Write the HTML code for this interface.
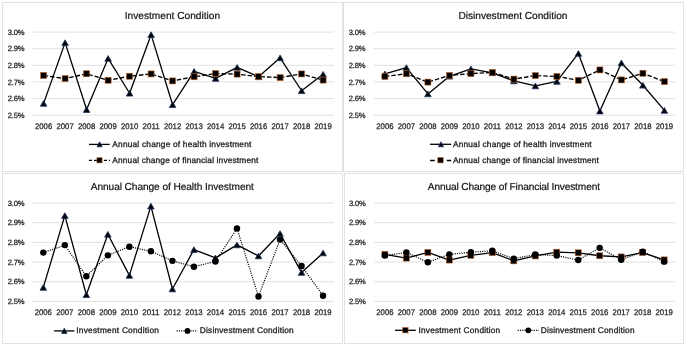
<!DOCTYPE html><html><head><meta charset="utf-8"><style>html,body{margin:0;padding:0;background:#fff;}svg{display:block;filter:blur(0.5px);}</style></head><body>
<svg width="685" height="345" viewBox="0 0 685 345" font-family="Liberation Sans, sans-serif" text-rendering="geometricPrecision">
<rect width="685" height="345" fill="#fff"/>
<rect x="2.5" y="2.5" width="340" height="169" fill="#fff" stroke="#e2e2e2" stroke-width="1"/>
<rect x="343.5" y="2.5" width="340" height="169" fill="#fff" stroke="#e2e2e2" stroke-width="1"/>
<rect x="2.5" y="173.5" width="340" height="170" fill="#fff" stroke="#e2e2e2" stroke-width="1"/>
<rect x="344.5" y="173.5" width="339" height="170" fill="#fff" stroke="#e2e2e2" stroke-width="1"/>
<line x1="32.6" y1="115.20" x2="333.9" y2="115.20" stroke="#e1e1e1" stroke-width="1"/>
<text x="24.50" y="117.90" font-size="7.6" fill="#1e1e1e" stroke="#1e1e1e" stroke-width="0.25" text-anchor="end" textLength="16.8" lengthAdjust="spacing">2.5%</text>
<line x1="32.6" y1="98.58" x2="333.9" y2="98.58" stroke="#e1e1e1" stroke-width="1"/>
<text x="24.50" y="101.28" font-size="7.6" fill="#1e1e1e" stroke="#1e1e1e" stroke-width="0.25" text-anchor="end" textLength="16.8" lengthAdjust="spacing">2.6%</text>
<line x1="32.6" y1="81.96" x2="333.9" y2="81.96" stroke="#e1e1e1" stroke-width="1"/>
<text x="24.50" y="84.66" font-size="7.6" fill="#1e1e1e" stroke="#1e1e1e" stroke-width="0.25" text-anchor="end" textLength="16.8" lengthAdjust="spacing">2.7%</text>
<line x1="32.6" y1="65.34" x2="333.9" y2="65.34" stroke="#e1e1e1" stroke-width="1"/>
<text x="24.50" y="68.04" font-size="7.6" fill="#1e1e1e" stroke="#1e1e1e" stroke-width="0.25" text-anchor="end" textLength="16.8" lengthAdjust="spacing">2.8%</text>
<line x1="32.6" y1="48.72" x2="333.9" y2="48.72" stroke="#e1e1e1" stroke-width="1"/>
<text x="24.50" y="51.42" font-size="7.6" fill="#1e1e1e" stroke="#1e1e1e" stroke-width="0.25" text-anchor="end" textLength="16.8" lengthAdjust="spacing">2.9%</text>
<line x1="32.6" y1="32.10" x2="333.9" y2="32.10" stroke="#e1e1e1" stroke-width="1"/>
<text x="24.50" y="34.80" font-size="7.6" fill="#1e1e1e" stroke="#1e1e1e" stroke-width="0.25" text-anchor="end" textLength="16.8" lengthAdjust="spacing">3.0%</text>
<text x="43.60" y="128.60" font-size="8.1" fill="#1e1e1e" stroke="#1e1e1e" stroke-width="0.25" text-anchor="middle" textLength="17.2" lengthAdjust="spacingAndGlyphs">2006</text>
<text x="65.10" y="128.60" font-size="8.1" fill="#1e1e1e" stroke="#1e1e1e" stroke-width="0.25" text-anchor="middle" textLength="17.2" lengthAdjust="spacingAndGlyphs">2007</text>
<text x="86.60" y="128.60" font-size="8.1" fill="#1e1e1e" stroke="#1e1e1e" stroke-width="0.25" text-anchor="middle" textLength="17.2" lengthAdjust="spacingAndGlyphs">2008</text>
<text x="108.10" y="128.60" font-size="8.1" fill="#1e1e1e" stroke="#1e1e1e" stroke-width="0.25" text-anchor="middle" textLength="17.2" lengthAdjust="spacingAndGlyphs">2009</text>
<text x="129.60" y="128.60" font-size="8.1" fill="#1e1e1e" stroke="#1e1e1e" stroke-width="0.25" text-anchor="middle" textLength="17.2" lengthAdjust="spacingAndGlyphs">2010</text>
<text x="151.10" y="128.60" font-size="8.1" fill="#1e1e1e" stroke="#1e1e1e" stroke-width="0.25" text-anchor="middle" textLength="17.2" lengthAdjust="spacingAndGlyphs">2011</text>
<text x="172.60" y="128.60" font-size="8.1" fill="#1e1e1e" stroke="#1e1e1e" stroke-width="0.25" text-anchor="middle" textLength="17.2" lengthAdjust="spacingAndGlyphs">2012</text>
<text x="194.10" y="128.60" font-size="8.1" fill="#1e1e1e" stroke="#1e1e1e" stroke-width="0.25" text-anchor="middle" textLength="17.2" lengthAdjust="spacingAndGlyphs">2013</text>
<text x="215.60" y="128.60" font-size="8.1" fill="#1e1e1e" stroke="#1e1e1e" stroke-width="0.25" text-anchor="middle" textLength="17.2" lengthAdjust="spacingAndGlyphs">2014</text>
<text x="237.10" y="128.60" font-size="8.1" fill="#1e1e1e" stroke="#1e1e1e" stroke-width="0.25" text-anchor="middle" textLength="17.2" lengthAdjust="spacingAndGlyphs">2015</text>
<text x="258.60" y="128.60" font-size="8.1" fill="#1e1e1e" stroke="#1e1e1e" stroke-width="0.25" text-anchor="middle" textLength="17.2" lengthAdjust="spacingAndGlyphs">2016</text>
<text x="280.10" y="128.60" font-size="8.1" fill="#1e1e1e" stroke="#1e1e1e" stroke-width="0.25" text-anchor="middle" textLength="17.2" lengthAdjust="spacingAndGlyphs">2017</text>
<text x="301.60" y="128.60" font-size="8.1" fill="#1e1e1e" stroke="#1e1e1e" stroke-width="0.25" text-anchor="middle" textLength="17.2" lengthAdjust="spacingAndGlyphs">2018</text>
<text x="323.10" y="128.60" font-size="8.1" fill="#1e1e1e" stroke="#1e1e1e" stroke-width="0.25" text-anchor="middle" textLength="17.2" lengthAdjust="spacingAndGlyphs">2019</text>
<text x="124.80" y="18.80" font-size="10.2" fill="#141414" stroke="#141414" stroke-width="0.2" text-anchor="start" textLength="95.3" lengthAdjust="spacing">Investment Condition</text>
<path d="M43.60,103.39 L65.10,42.65 L86.60,109.54 L108.10,58.46 L129.60,93.24 L151.10,34.66 L172.60,104.72 L194.10,71.44 L215.60,78.43 L237.10,67.44 L258.60,76.76 L280.10,57.79 L301.60,90.74 L323.10,74.27" fill="none" stroke="#000" stroke-width="1.3" stroke-linejoin="round"/>
<path d="M43.60,100.54 L46.90,106.24 L40.30,106.24 Z" fill="#000" stroke="#203864" stroke-width="0.8" stroke-linejoin="miter"/>
<path d="M65.10,39.80 L68.40,45.50 L61.80,45.50 Z" fill="#000" stroke="#203864" stroke-width="0.8" stroke-linejoin="miter"/>
<path d="M86.60,106.69 L89.90,112.39 L83.30,112.39 Z" fill="#000" stroke="#203864" stroke-width="0.8" stroke-linejoin="miter"/>
<path d="M108.10,55.61 L111.40,61.31 L104.80,61.31 Z" fill="#000" stroke="#203864" stroke-width="0.8" stroke-linejoin="miter"/>
<path d="M129.60,90.39 L132.90,96.09 L126.30,96.09 Z" fill="#000" stroke="#203864" stroke-width="0.8" stroke-linejoin="miter"/>
<path d="M151.10,31.81 L154.40,37.51 L147.80,37.51 Z" fill="#000" stroke="#203864" stroke-width="0.8" stroke-linejoin="miter"/>
<path d="M172.60,101.87 L175.90,107.57 L169.30,107.57 Z" fill="#000" stroke="#203864" stroke-width="0.8" stroke-linejoin="miter"/>
<path d="M194.10,68.59 L197.40,74.29 L190.80,74.29 Z" fill="#000" stroke="#203864" stroke-width="0.8" stroke-linejoin="miter"/>
<path d="M215.60,75.58 L218.90,81.28 L212.30,81.28 Z" fill="#000" stroke="#203864" stroke-width="0.8" stroke-linejoin="miter"/>
<path d="M237.10,64.59 L240.40,70.29 L233.80,70.29 Z" fill="#000" stroke="#203864" stroke-width="0.8" stroke-linejoin="miter"/>
<path d="M258.60,73.91 L261.90,79.61 L255.30,79.61 Z" fill="#000" stroke="#203864" stroke-width="0.8" stroke-linejoin="miter"/>
<path d="M280.10,54.94 L283.40,60.64 L276.80,60.64 Z" fill="#000" stroke="#203864" stroke-width="0.8" stroke-linejoin="miter"/>
<path d="M301.60,87.89 L304.90,93.59 L298.30,93.59 Z" fill="#000" stroke="#203864" stroke-width="0.8" stroke-linejoin="miter"/>
<path d="M323.10,71.42 L326.40,77.12 L319.80,77.12 Z" fill="#000" stroke="#203864" stroke-width="0.8" stroke-linejoin="miter"/>
<path d="M43.60,75.43 L65.10,78.59 L86.60,73.77 L108.10,80.26 L129.60,76.26 L151.10,73.93 L172.60,80.92 L194.10,76.76 L215.60,73.60 L237.10,74.10 L258.60,76.60 L280.10,77.59 L301.60,73.93 L323.10,80.09" fill="none" stroke="#000" stroke-width="1.35" stroke-dasharray="4.5 2"/>
<rect x="40.60" y="72.43" width="6.0" height="6.0" fill="#000" stroke="#b8622a" stroke-width="0.6"/>
<rect x="62.10" y="75.59" width="6.0" height="6.0" fill="#000" stroke="#b8622a" stroke-width="0.6"/>
<rect x="83.60" y="70.77" width="6.0" height="6.0" fill="#000" stroke="#b8622a" stroke-width="0.6"/>
<rect x="105.10" y="77.26" width="6.0" height="6.0" fill="#000" stroke="#b8622a" stroke-width="0.6"/>
<rect x="126.60" y="73.26" width="6.0" height="6.0" fill="#000" stroke="#b8622a" stroke-width="0.6"/>
<rect x="148.10" y="70.93" width="6.0" height="6.0" fill="#000" stroke="#b8622a" stroke-width="0.6"/>
<rect x="169.60" y="77.92" width="6.0" height="6.0" fill="#000" stroke="#b8622a" stroke-width="0.6"/>
<rect x="191.10" y="73.76" width="6.0" height="6.0" fill="#000" stroke="#b8622a" stroke-width="0.6"/>
<rect x="212.60" y="70.60" width="6.0" height="6.0" fill="#000" stroke="#b8622a" stroke-width="0.6"/>
<rect x="234.10" y="71.10" width="6.0" height="6.0" fill="#000" stroke="#b8622a" stroke-width="0.6"/>
<rect x="255.60" y="73.60" width="6.0" height="6.0" fill="#000" stroke="#b8622a" stroke-width="0.6"/>
<rect x="277.10" y="74.59" width="6.0" height="6.0" fill="#000" stroke="#b8622a" stroke-width="0.6"/>
<rect x="298.60" y="70.93" width="6.0" height="6.0" fill="#000" stroke="#b8622a" stroke-width="0.6"/>
<rect x="320.10" y="77.09" width="6.0" height="6.0" fill="#000" stroke="#b8622a" stroke-width="0.6"/>
<line x1="89" y1="144.4" x2="109.7" y2="144.4" stroke="#000" stroke-width="1.3"/>
<path d="M99.60,141.80 L102.20,146.80 L97.00,146.80 Z" fill="#000" stroke="#203864" stroke-width="0.8" stroke-linejoin="miter"/>
<text x="112.30" y="147.10" font-size="8.3" fill="#1e1e1e" stroke="#1e1e1e" stroke-width="0.3" text-anchor="start" textLength="139" lengthAdjust="spacing">Annual change of health investment</text>
<line x1="88.9" y1="160.4" x2="110" y2="160.4" stroke="#000" stroke-width="1.4" stroke-dasharray="3.1 1.9"/>
<rect x="96.90" y="157.70" width="5.2" height="5.2" fill="#000" stroke="#b8622a" stroke-width="0.6"/>
<text x="112.30" y="163.10" font-size="8.3" fill="#1e1e1e" stroke="#1e1e1e" stroke-width="0.3" text-anchor="start" textLength="146" lengthAdjust="spacing">Annual change of financial investment</text>
<line x1="373.7" y1="115.20" x2="674.8" y2="115.20" stroke="#e1e1e1" stroke-width="1"/>
<text x="365.60" y="117.90" font-size="7.6" fill="#1e1e1e" stroke="#1e1e1e" stroke-width="0.25" text-anchor="end" textLength="16.8" lengthAdjust="spacing">2.5%</text>
<line x1="373.7" y1="98.58" x2="674.8" y2="98.58" stroke="#e1e1e1" stroke-width="1"/>
<text x="365.60" y="101.28" font-size="7.6" fill="#1e1e1e" stroke="#1e1e1e" stroke-width="0.25" text-anchor="end" textLength="16.8" lengthAdjust="spacing">2.6%</text>
<line x1="373.7" y1="81.96" x2="674.8" y2="81.96" stroke="#e1e1e1" stroke-width="1"/>
<text x="365.60" y="84.66" font-size="7.6" fill="#1e1e1e" stroke="#1e1e1e" stroke-width="0.25" text-anchor="end" textLength="16.8" lengthAdjust="spacing">2.7%</text>
<line x1="373.7" y1="65.34" x2="674.8" y2="65.34" stroke="#e1e1e1" stroke-width="1"/>
<text x="365.60" y="68.04" font-size="7.6" fill="#1e1e1e" stroke="#1e1e1e" stroke-width="0.25" text-anchor="end" textLength="16.8" lengthAdjust="spacing">2.8%</text>
<line x1="373.7" y1="48.72" x2="674.8" y2="48.72" stroke="#e1e1e1" stroke-width="1"/>
<text x="365.60" y="51.42" font-size="7.6" fill="#1e1e1e" stroke="#1e1e1e" stroke-width="0.25" text-anchor="end" textLength="16.8" lengthAdjust="spacing">2.9%</text>
<line x1="373.7" y1="32.10" x2="674.8" y2="32.10" stroke="#e1e1e1" stroke-width="1"/>
<text x="365.60" y="34.80" font-size="7.6" fill="#1e1e1e" stroke="#1e1e1e" stroke-width="0.25" text-anchor="end" textLength="16.8" lengthAdjust="spacing">3.0%</text>
<text x="384.90" y="128.60" font-size="8.1" fill="#1e1e1e" stroke="#1e1e1e" stroke-width="0.25" text-anchor="middle" textLength="17.2" lengthAdjust="spacingAndGlyphs">2006</text>
<text x="406.40" y="128.60" font-size="8.1" fill="#1e1e1e" stroke="#1e1e1e" stroke-width="0.25" text-anchor="middle" textLength="17.2" lengthAdjust="spacingAndGlyphs">2007</text>
<text x="427.90" y="128.60" font-size="8.1" fill="#1e1e1e" stroke="#1e1e1e" stroke-width="0.25" text-anchor="middle" textLength="17.2" lengthAdjust="spacingAndGlyphs">2008</text>
<text x="449.40" y="128.60" font-size="8.1" fill="#1e1e1e" stroke="#1e1e1e" stroke-width="0.25" text-anchor="middle" textLength="17.2" lengthAdjust="spacingAndGlyphs">2009</text>
<text x="470.90" y="128.60" font-size="8.1" fill="#1e1e1e" stroke="#1e1e1e" stroke-width="0.25" text-anchor="middle" textLength="17.2" lengthAdjust="spacingAndGlyphs">2010</text>
<text x="492.40" y="128.60" font-size="8.1" fill="#1e1e1e" stroke="#1e1e1e" stroke-width="0.25" text-anchor="middle" textLength="17.2" lengthAdjust="spacingAndGlyphs">2011</text>
<text x="513.90" y="128.60" font-size="8.1" fill="#1e1e1e" stroke="#1e1e1e" stroke-width="0.25" text-anchor="middle" textLength="17.2" lengthAdjust="spacingAndGlyphs">2012</text>
<text x="535.40" y="128.60" font-size="8.1" fill="#1e1e1e" stroke="#1e1e1e" stroke-width="0.25" text-anchor="middle" textLength="17.2" lengthAdjust="spacingAndGlyphs">2013</text>
<text x="556.90" y="128.60" font-size="8.1" fill="#1e1e1e" stroke="#1e1e1e" stroke-width="0.25" text-anchor="middle" textLength="17.2" lengthAdjust="spacingAndGlyphs">2014</text>
<text x="578.40" y="128.60" font-size="8.1" fill="#1e1e1e" stroke="#1e1e1e" stroke-width="0.25" text-anchor="middle" textLength="17.2" lengthAdjust="spacingAndGlyphs">2015</text>
<text x="599.90" y="128.60" font-size="8.1" fill="#1e1e1e" stroke="#1e1e1e" stroke-width="0.25" text-anchor="middle" textLength="17.2" lengthAdjust="spacingAndGlyphs">2016</text>
<text x="621.40" y="128.60" font-size="8.1" fill="#1e1e1e" stroke="#1e1e1e" stroke-width="0.25" text-anchor="middle" textLength="17.2" lengthAdjust="spacingAndGlyphs">2017</text>
<text x="642.90" y="128.60" font-size="8.1" fill="#1e1e1e" stroke="#1e1e1e" stroke-width="0.25" text-anchor="middle" textLength="17.2" lengthAdjust="spacingAndGlyphs">2018</text>
<text x="664.40" y="128.60" font-size="8.1" fill="#1e1e1e" stroke="#1e1e1e" stroke-width="0.25" text-anchor="middle" textLength="17.2" lengthAdjust="spacingAndGlyphs">2019</text>
<text x="458.50" y="18.80" font-size="10.2" fill="#141414" stroke="#141414" stroke-width="0.2" text-anchor="start" textLength="109" lengthAdjust="spacing">Disinvestment Condition</text>
<path d="M384.90,73.93 L406.40,67.61 L427.90,93.90 L449.40,76.26 L470.90,68.94 L492.40,72.77 L513.90,80.92 L535.40,85.91 L556.90,81.42 L578.40,53.47 L599.90,111.04 L621.40,62.95 L642.90,85.25 L664.40,110.37" fill="none" stroke="#000" stroke-width="1.3" stroke-linejoin="round"/>
<path d="M384.90,71.08 L388.20,76.78 L381.60,76.78 Z" fill="#000" stroke="#203864" stroke-width="0.8" stroke-linejoin="miter"/>
<path d="M406.40,64.76 L409.70,70.46 L403.10,70.46 Z" fill="#000" stroke="#203864" stroke-width="0.8" stroke-linejoin="miter"/>
<path d="M427.90,91.05 L431.20,96.75 L424.60,96.75 Z" fill="#000" stroke="#203864" stroke-width="0.8" stroke-linejoin="miter"/>
<path d="M449.40,73.41 L452.70,79.11 L446.10,79.11 Z" fill="#000" stroke="#203864" stroke-width="0.8" stroke-linejoin="miter"/>
<path d="M470.90,66.09 L474.20,71.79 L467.60,71.79 Z" fill="#000" stroke="#203864" stroke-width="0.8" stroke-linejoin="miter"/>
<path d="M492.40,69.92 L495.70,75.62 L489.10,75.62 Z" fill="#000" stroke="#203864" stroke-width="0.8" stroke-linejoin="miter"/>
<path d="M513.90,78.07 L517.20,83.77 L510.60,83.77 Z" fill="#000" stroke="#203864" stroke-width="0.8" stroke-linejoin="miter"/>
<path d="M535.40,83.06 L538.70,88.76 L532.10,88.76 Z" fill="#000" stroke="#203864" stroke-width="0.8" stroke-linejoin="miter"/>
<path d="M556.90,78.57 L560.20,84.27 L553.60,84.27 Z" fill="#000" stroke="#203864" stroke-width="0.8" stroke-linejoin="miter"/>
<path d="M578.40,50.62 L581.70,56.32 L575.10,56.32 Z" fill="#000" stroke="#203864" stroke-width="0.8" stroke-linejoin="miter"/>
<path d="M599.90,108.19 L603.20,113.89 L596.60,113.89 Z" fill="#000" stroke="#203864" stroke-width="0.8" stroke-linejoin="miter"/>
<path d="M621.40,60.10 L624.70,65.80 L618.10,65.80 Z" fill="#000" stroke="#203864" stroke-width="0.8" stroke-linejoin="miter"/>
<path d="M642.90,82.40 L646.20,88.10 L639.60,88.10 Z" fill="#000" stroke="#203864" stroke-width="0.8" stroke-linejoin="miter"/>
<path d="M664.40,107.52 L667.70,113.22 L661.10,113.22 Z" fill="#000" stroke="#203864" stroke-width="0.8" stroke-linejoin="miter"/>
<path d="M384.90,76.43 L406.40,73.77 L427.90,82.09 L449.40,75.43 L470.90,73.60 L492.40,72.44 L513.90,79.09 L535.40,75.60 L556.90,76.43 L578.40,80.26 L599.90,69.94 L621.40,79.92 L642.90,73.27 L664.40,81.59" fill="none" stroke="#000" stroke-width="1.35" stroke-dasharray="4.5 2"/>
<rect x="381.90" y="73.43" width="6.0" height="6.0" fill="#000" stroke="#b8622a" stroke-width="0.6"/>
<rect x="403.40" y="70.77" width="6.0" height="6.0" fill="#000" stroke="#b8622a" stroke-width="0.6"/>
<rect x="424.90" y="79.09" width="6.0" height="6.0" fill="#000" stroke="#b8622a" stroke-width="0.6"/>
<rect x="446.40" y="72.43" width="6.0" height="6.0" fill="#000" stroke="#b8622a" stroke-width="0.6"/>
<rect x="467.90" y="70.60" width="6.0" height="6.0" fill="#000" stroke="#b8622a" stroke-width="0.6"/>
<rect x="489.40" y="69.44" width="6.0" height="6.0" fill="#000" stroke="#b8622a" stroke-width="0.6"/>
<rect x="510.90" y="76.09" width="6.0" height="6.0" fill="#000" stroke="#b8622a" stroke-width="0.6"/>
<rect x="532.40" y="72.60" width="6.0" height="6.0" fill="#000" stroke="#b8622a" stroke-width="0.6"/>
<rect x="553.90" y="73.43" width="6.0" height="6.0" fill="#000" stroke="#b8622a" stroke-width="0.6"/>
<rect x="575.40" y="77.26" width="6.0" height="6.0" fill="#000" stroke="#b8622a" stroke-width="0.6"/>
<rect x="596.90" y="66.94" width="6.0" height="6.0" fill="#000" stroke="#b8622a" stroke-width="0.6"/>
<rect x="618.40" y="76.92" width="6.0" height="6.0" fill="#000" stroke="#b8622a" stroke-width="0.6"/>
<rect x="639.90" y="70.27" width="6.0" height="6.0" fill="#000" stroke="#b8622a" stroke-width="0.6"/>
<rect x="661.40" y="78.59" width="6.0" height="6.0" fill="#000" stroke="#b8622a" stroke-width="0.6"/>
<line x1="430.1" y1="144.3" x2="451.2" y2="144.3" stroke="#000" stroke-width="1.3"/>
<path d="M441.00,141.80 L443.60,146.80 L438.40,146.80 Z" fill="#000" stroke="#203864" stroke-width="0.8" stroke-linejoin="miter"/>
<text x="452.90" y="147.30" font-size="8.3" fill="#1e1e1e" stroke="#1e1e1e" stroke-width="0.3" text-anchor="start" textLength="138.7" lengthAdjust="spacing">Annual change of health investment</text>
<line x1="430.1" y1="160.4" x2="451.2" y2="160.4" stroke="#000" stroke-width="1.5" stroke-dasharray="4.6 12.1"/>
<rect x="437.80" y="157.50" width="5.4" height="5.4" fill="#000" stroke="#b8622a" stroke-width="0.6"/>
<text x="452.90" y="163.30" font-size="8.3" fill="#1e1e1e" stroke="#1e1e1e" stroke-width="0.3" text-anchor="start" textLength="146" lengthAdjust="spacing">Annual change of financial investment</text>
<line x1="32.4" y1="301.40" x2="334.0" y2="301.40" stroke="#e1e1e1" stroke-width="1"/>
<text x="24.50" y="304.10" font-size="7.6" fill="#1e1e1e" stroke="#1e1e1e" stroke-width="0.25" text-anchor="end" textLength="16.8" lengthAdjust="spacing">2.5%</text>
<line x1="32.4" y1="281.72" x2="334.0" y2="281.72" stroke="#e1e1e1" stroke-width="1"/>
<text x="24.50" y="284.42" font-size="7.6" fill="#1e1e1e" stroke="#1e1e1e" stroke-width="0.25" text-anchor="end" textLength="16.8" lengthAdjust="spacing">2.6%</text>
<line x1="32.4" y1="262.04" x2="334.0" y2="262.04" stroke="#e1e1e1" stroke-width="1"/>
<text x="24.50" y="264.74" font-size="7.6" fill="#1e1e1e" stroke="#1e1e1e" stroke-width="0.25" text-anchor="end" textLength="16.8" lengthAdjust="spacing">2.7%</text>
<line x1="32.4" y1="242.36" x2="334.0" y2="242.36" stroke="#e1e1e1" stroke-width="1"/>
<text x="24.50" y="245.06" font-size="7.6" fill="#1e1e1e" stroke="#1e1e1e" stroke-width="0.25" text-anchor="end" textLength="16.8" lengthAdjust="spacing">2.8%</text>
<line x1="32.4" y1="222.68" x2="334.0" y2="222.68" stroke="#e1e1e1" stroke-width="1"/>
<text x="24.50" y="225.38" font-size="7.6" fill="#1e1e1e" stroke="#1e1e1e" stroke-width="0.25" text-anchor="end" textLength="16.8" lengthAdjust="spacing">2.9%</text>
<line x1="32.4" y1="203.00" x2="334.0" y2="203.00" stroke="#e1e1e1" stroke-width="1"/>
<text x="24.50" y="205.70" font-size="7.6" fill="#1e1e1e" stroke="#1e1e1e" stroke-width="0.25" text-anchor="end" textLength="16.8" lengthAdjust="spacing">3.0%</text>
<text x="43.30" y="315.00" font-size="8.1" fill="#1e1e1e" stroke="#1e1e1e" stroke-width="0.25" text-anchor="middle" textLength="17.2" lengthAdjust="spacingAndGlyphs">2006</text>
<text x="64.82" y="315.00" font-size="8.1" fill="#1e1e1e" stroke="#1e1e1e" stroke-width="0.25" text-anchor="middle" textLength="17.2" lengthAdjust="spacingAndGlyphs">2007</text>
<text x="86.34" y="315.00" font-size="8.1" fill="#1e1e1e" stroke="#1e1e1e" stroke-width="0.25" text-anchor="middle" textLength="17.2" lengthAdjust="spacingAndGlyphs">2008</text>
<text x="107.86" y="315.00" font-size="8.1" fill="#1e1e1e" stroke="#1e1e1e" stroke-width="0.25" text-anchor="middle" textLength="17.2" lengthAdjust="spacingAndGlyphs">2009</text>
<text x="129.38" y="315.00" font-size="8.1" fill="#1e1e1e" stroke="#1e1e1e" stroke-width="0.25" text-anchor="middle" textLength="17.2" lengthAdjust="spacingAndGlyphs">2010</text>
<text x="150.90" y="315.00" font-size="8.1" fill="#1e1e1e" stroke="#1e1e1e" stroke-width="0.25" text-anchor="middle" textLength="17.2" lengthAdjust="spacingAndGlyphs">2011</text>
<text x="172.42" y="315.00" font-size="8.1" fill="#1e1e1e" stroke="#1e1e1e" stroke-width="0.25" text-anchor="middle" textLength="17.2" lengthAdjust="spacingAndGlyphs">2012</text>
<text x="193.94" y="315.00" font-size="8.1" fill="#1e1e1e" stroke="#1e1e1e" stroke-width="0.25" text-anchor="middle" textLength="17.2" lengthAdjust="spacingAndGlyphs">2013</text>
<text x="215.46" y="315.00" font-size="8.1" fill="#1e1e1e" stroke="#1e1e1e" stroke-width="0.25" text-anchor="middle" textLength="17.2" lengthAdjust="spacingAndGlyphs">2014</text>
<text x="236.98" y="315.00" font-size="8.1" fill="#1e1e1e" stroke="#1e1e1e" stroke-width="0.25" text-anchor="middle" textLength="17.2" lengthAdjust="spacingAndGlyphs">2015</text>
<text x="258.50" y="315.00" font-size="8.1" fill="#1e1e1e" stroke="#1e1e1e" stroke-width="0.25" text-anchor="middle" textLength="17.2" lengthAdjust="spacingAndGlyphs">2016</text>
<text x="280.02" y="315.00" font-size="8.1" fill="#1e1e1e" stroke="#1e1e1e" stroke-width="0.25" text-anchor="middle" textLength="17.2" lengthAdjust="spacingAndGlyphs">2017</text>
<text x="301.54" y="315.00" font-size="8.1" fill="#1e1e1e" stroke="#1e1e1e" stroke-width="0.25" text-anchor="middle" textLength="17.2" lengthAdjust="spacingAndGlyphs">2018</text>
<text x="323.06" y="315.00" font-size="8.1" fill="#1e1e1e" stroke="#1e1e1e" stroke-width="0.25" text-anchor="middle" textLength="17.2" lengthAdjust="spacingAndGlyphs">2019</text>
<text x="90.80" y="189.70" font-size="10.2" fill="#141414" stroke="#141414" stroke-width="0.2" text-anchor="start" textLength="163.1" lengthAdjust="spacing">Annual Change of Health Investment</text>
<path d="M43.30,287.43 L64.82,215.60 L86.34,294.71 L107.86,234.29 L129.38,275.42 L150.90,206.15 L172.42,289.00 L193.94,249.64 L215.46,257.91 L236.98,244.92 L258.50,255.94 L280.02,233.50 L301.54,272.47 L323.06,252.99" fill="none" stroke="#000" stroke-width="1.3" stroke-linejoin="round"/>
<path d="M43.30,284.58 L46.60,290.28 L40.00,290.28 Z" fill="#000" stroke="#203864" stroke-width="0.8" stroke-linejoin="miter"/>
<path d="M64.82,212.75 L68.12,218.45 L61.52,218.45 Z" fill="#000" stroke="#203864" stroke-width="0.8" stroke-linejoin="miter"/>
<path d="M86.34,291.86 L89.64,297.56 L83.04,297.56 Z" fill="#000" stroke="#203864" stroke-width="0.8" stroke-linejoin="miter"/>
<path d="M107.86,231.44 L111.16,237.14 L104.56,237.14 Z" fill="#000" stroke="#203864" stroke-width="0.8" stroke-linejoin="miter"/>
<path d="M129.38,272.57 L132.68,278.27 L126.08,278.27 Z" fill="#000" stroke="#203864" stroke-width="0.8" stroke-linejoin="miter"/>
<path d="M150.90,203.30 L154.20,209.00 L147.60,209.00 Z" fill="#000" stroke="#203864" stroke-width="0.8" stroke-linejoin="miter"/>
<path d="M172.42,286.15 L175.72,291.85 L169.12,291.85 Z" fill="#000" stroke="#203864" stroke-width="0.8" stroke-linejoin="miter"/>
<path d="M193.94,246.79 L197.24,252.49 L190.64,252.49 Z" fill="#000" stroke="#203864" stroke-width="0.8" stroke-linejoin="miter"/>
<path d="M215.46,255.06 L218.76,260.76 L212.16,260.76 Z" fill="#000" stroke="#203864" stroke-width="0.8" stroke-linejoin="miter"/>
<path d="M236.98,242.07 L240.28,247.77 L233.68,247.77 Z" fill="#000" stroke="#203864" stroke-width="0.8" stroke-linejoin="miter"/>
<path d="M258.50,253.09 L261.80,258.79 L255.20,258.79 Z" fill="#000" stroke="#203864" stroke-width="0.8" stroke-linejoin="miter"/>
<path d="M280.02,230.65 L283.32,236.35 L276.72,236.35 Z" fill="#000" stroke="#203864" stroke-width="0.8" stroke-linejoin="miter"/>
<path d="M301.54,269.62 L304.84,275.32 L298.24,275.32 Z" fill="#000" stroke="#203864" stroke-width="0.8" stroke-linejoin="miter"/>
<path d="M323.06,250.14 L326.36,255.84 L319.76,255.84 Z" fill="#000" stroke="#203864" stroke-width="0.8" stroke-linejoin="miter"/>
<path d="M43.30,252.59 L64.82,245.12 L86.34,276.21 L107.86,255.35 L129.38,246.69 L150.90,251.22 L172.42,260.86 L193.94,266.76 L215.46,261.45 L236.98,228.39 L258.50,296.48 L280.02,239.60 L301.54,265.98 L323.06,295.69" fill="none" stroke="#000" stroke-width="1.2" stroke-dasharray="1.1 1.2"/>
<circle cx="43.30" cy="252.59" r="3.2" fill="#000"/>
<circle cx="64.82" cy="245.12" r="3.2" fill="#000"/>
<circle cx="86.34" cy="276.21" r="3.2" fill="#000"/>
<circle cx="107.86" cy="255.35" r="3.2" fill="#000"/>
<circle cx="129.38" cy="246.69" r="3.2" fill="#000"/>
<circle cx="150.90" cy="251.22" r="3.2" fill="#000"/>
<circle cx="172.42" cy="260.86" r="3.2" fill="#000"/>
<circle cx="193.94" cy="266.76" r="3.2" fill="#000"/>
<circle cx="215.46" cy="261.45" r="3.2" fill="#000"/>
<circle cx="236.98" cy="228.39" r="3.2" fill="#000"/>
<circle cx="258.50" cy="296.48" r="3.2" fill="#000"/>
<circle cx="280.02" cy="239.60" r="3.2" fill="#000"/>
<circle cx="301.54" cy="265.98" r="3.2" fill="#000"/>
<circle cx="323.06" cy="295.69" r="3.2" fill="#000"/>
<line x1="54.1" y1="330.9" x2="74.4" y2="330.9" stroke="#000" stroke-width="1.3"/>
<path d="M64.30,328.20 L67.10,333.40 L61.50,333.40 Z" fill="#000" stroke="#203864" stroke-width="0.8" stroke-linejoin="miter"/>
<text x="76.30" y="333.20" font-size="8.3" fill="#1e1e1e" stroke="#1e1e1e" stroke-width="0.3" text-anchor="start" textLength="82.6" lengthAdjust="spacing">Investment Condition</text>
<line x1="176.6" y1="330.9" x2="197.5" y2="330.9" stroke="#000" stroke-width="1.2" stroke-dasharray="1.1 1.2"/>
<circle cx="187.50" cy="330.90" r="2.9" fill="#000"/>
<text x="199.80" y="333.20" font-size="8.3" fill="#1e1e1e" stroke="#1e1e1e" stroke-width="0.3" text-anchor="start" textLength="93.9" lengthAdjust="spacing">Disinvestment Condition</text>
<line x1="374.3" y1="301.40" x2="675.0" y2="301.40" stroke="#e1e1e1" stroke-width="1"/>
<text x="365.70" y="304.10" font-size="7.6" fill="#1e1e1e" stroke="#1e1e1e" stroke-width="0.25" text-anchor="end" textLength="16.8" lengthAdjust="spacing">2.5%</text>
<line x1="374.3" y1="281.72" x2="675.0" y2="281.72" stroke="#e1e1e1" stroke-width="1"/>
<text x="365.70" y="284.42" font-size="7.6" fill="#1e1e1e" stroke="#1e1e1e" stroke-width="0.25" text-anchor="end" textLength="16.8" lengthAdjust="spacing">2.6%</text>
<line x1="374.3" y1="262.04" x2="675.0" y2="262.04" stroke="#e1e1e1" stroke-width="1"/>
<text x="365.70" y="264.74" font-size="7.6" fill="#1e1e1e" stroke="#1e1e1e" stroke-width="0.25" text-anchor="end" textLength="16.8" lengthAdjust="spacing">2.7%</text>
<line x1="374.3" y1="242.36" x2="675.0" y2="242.36" stroke="#e1e1e1" stroke-width="1"/>
<text x="365.70" y="245.06" font-size="7.6" fill="#1e1e1e" stroke="#1e1e1e" stroke-width="0.25" text-anchor="end" textLength="16.8" lengthAdjust="spacing">2.8%</text>
<line x1="374.3" y1="222.68" x2="675.0" y2="222.68" stroke="#e1e1e1" stroke-width="1"/>
<text x="365.70" y="225.38" font-size="7.6" fill="#1e1e1e" stroke="#1e1e1e" stroke-width="0.25" text-anchor="end" textLength="16.8" lengthAdjust="spacing">2.9%</text>
<line x1="374.3" y1="203.00" x2="675.0" y2="203.00" stroke="#e1e1e1" stroke-width="1"/>
<text x="365.70" y="205.70" font-size="7.6" fill="#1e1e1e" stroke="#1e1e1e" stroke-width="0.25" text-anchor="end" textLength="16.8" lengthAdjust="spacing">3.0%</text>
<text x="384.90" y="315.00" font-size="8.1" fill="#1e1e1e" stroke="#1e1e1e" stroke-width="0.25" text-anchor="middle" textLength="17.2" lengthAdjust="spacingAndGlyphs">2006</text>
<text x="406.38" y="315.00" font-size="8.1" fill="#1e1e1e" stroke="#1e1e1e" stroke-width="0.25" text-anchor="middle" textLength="17.2" lengthAdjust="spacingAndGlyphs">2007</text>
<text x="427.86" y="315.00" font-size="8.1" fill="#1e1e1e" stroke="#1e1e1e" stroke-width="0.25" text-anchor="middle" textLength="17.2" lengthAdjust="spacingAndGlyphs">2008</text>
<text x="449.34" y="315.00" font-size="8.1" fill="#1e1e1e" stroke="#1e1e1e" stroke-width="0.25" text-anchor="middle" textLength="17.2" lengthAdjust="spacingAndGlyphs">2009</text>
<text x="470.82" y="315.00" font-size="8.1" fill="#1e1e1e" stroke="#1e1e1e" stroke-width="0.25" text-anchor="middle" textLength="17.2" lengthAdjust="spacingAndGlyphs">2010</text>
<text x="492.30" y="315.00" font-size="8.1" fill="#1e1e1e" stroke="#1e1e1e" stroke-width="0.25" text-anchor="middle" textLength="17.2" lengthAdjust="spacingAndGlyphs">2011</text>
<text x="513.78" y="315.00" font-size="8.1" fill="#1e1e1e" stroke="#1e1e1e" stroke-width="0.25" text-anchor="middle" textLength="17.2" lengthAdjust="spacingAndGlyphs">2012</text>
<text x="535.26" y="315.00" font-size="8.1" fill="#1e1e1e" stroke="#1e1e1e" stroke-width="0.25" text-anchor="middle" textLength="17.2" lengthAdjust="spacingAndGlyphs">2013</text>
<text x="556.74" y="315.00" font-size="8.1" fill="#1e1e1e" stroke="#1e1e1e" stroke-width="0.25" text-anchor="middle" textLength="17.2" lengthAdjust="spacingAndGlyphs">2014</text>
<text x="578.22" y="315.00" font-size="8.1" fill="#1e1e1e" stroke="#1e1e1e" stroke-width="0.25" text-anchor="middle" textLength="17.2" lengthAdjust="spacingAndGlyphs">2015</text>
<text x="599.70" y="315.00" font-size="8.1" fill="#1e1e1e" stroke="#1e1e1e" stroke-width="0.25" text-anchor="middle" textLength="17.2" lengthAdjust="spacingAndGlyphs">2016</text>
<text x="621.18" y="315.00" font-size="8.1" fill="#1e1e1e" stroke="#1e1e1e" stroke-width="0.25" text-anchor="middle" textLength="17.2" lengthAdjust="spacingAndGlyphs">2017</text>
<text x="642.66" y="315.00" font-size="8.1" fill="#1e1e1e" stroke="#1e1e1e" stroke-width="0.25" text-anchor="middle" textLength="17.2" lengthAdjust="spacingAndGlyphs">2018</text>
<text x="664.14" y="315.00" font-size="8.1" fill="#1e1e1e" stroke="#1e1e1e" stroke-width="0.25" text-anchor="middle" textLength="17.2" lengthAdjust="spacingAndGlyphs">2019</text>
<text x="427.80" y="189.70" font-size="10.2" fill="#141414" stroke="#141414" stroke-width="0.2" text-anchor="start" textLength="172.2" lengthAdjust="spacing">Annual Change of Financial Investment</text>
<path d="M384.90,254.36 L406.38,258.10 L427.86,252.40 L449.34,260.07 L470.82,255.35 L492.30,252.59 L513.78,260.86 L535.26,255.94 L556.74,252.20 L578.22,252.79 L599.70,255.74 L621.18,256.92 L642.66,252.59 L664.14,259.88" fill="none" stroke="#000" stroke-width="1.3" stroke-linejoin="round"/>
<rect x="381.90" y="251.36" width="6.0" height="6.0" fill="#000" stroke="#b8622a" stroke-width="0.6"/>
<rect x="403.38" y="255.10" width="6.0" height="6.0" fill="#000" stroke="#b8622a" stroke-width="0.6"/>
<rect x="424.86" y="249.40" width="6.0" height="6.0" fill="#000" stroke="#b8622a" stroke-width="0.6"/>
<rect x="446.34" y="257.07" width="6.0" height="6.0" fill="#000" stroke="#b8622a" stroke-width="0.6"/>
<rect x="467.82" y="252.35" width="6.0" height="6.0" fill="#000" stroke="#b8622a" stroke-width="0.6"/>
<rect x="489.30" y="249.59" width="6.0" height="6.0" fill="#000" stroke="#b8622a" stroke-width="0.6"/>
<rect x="510.78" y="257.86" width="6.0" height="6.0" fill="#000" stroke="#b8622a" stroke-width="0.6"/>
<rect x="532.26" y="252.94" width="6.0" height="6.0" fill="#000" stroke="#b8622a" stroke-width="0.6"/>
<rect x="553.74" y="249.20" width="6.0" height="6.0" fill="#000" stroke="#b8622a" stroke-width="0.6"/>
<rect x="575.22" y="249.79" width="6.0" height="6.0" fill="#000" stroke="#b8622a" stroke-width="0.6"/>
<rect x="596.70" y="252.74" width="6.0" height="6.0" fill="#000" stroke="#b8622a" stroke-width="0.6"/>
<rect x="618.18" y="253.92" width="6.0" height="6.0" fill="#000" stroke="#b8622a" stroke-width="0.6"/>
<rect x="639.66" y="249.59" width="6.0" height="6.0" fill="#000" stroke="#b8622a" stroke-width="0.6"/>
<rect x="661.14" y="256.88" width="6.0" height="6.0" fill="#000" stroke="#b8622a" stroke-width="0.6"/>
<path d="M384.90,255.55 L406.38,252.40 L427.86,262.24 L449.34,254.36 L470.82,252.20 L492.30,250.82 L513.78,258.69 L535.26,254.56 L556.74,255.55 L578.22,260.07 L599.70,247.87 L621.18,259.68 L642.66,251.81 L664.14,261.65" fill="none" stroke="#000" stroke-width="1.2" stroke-dasharray="1.1 1.2"/>
<circle cx="384.90" cy="255.55" r="3.2" fill="#000"/>
<circle cx="406.38" cy="252.40" r="3.2" fill="#000"/>
<circle cx="427.86" cy="262.24" r="3.2" fill="#000"/>
<circle cx="449.34" cy="254.36" r="3.2" fill="#000"/>
<circle cx="470.82" cy="252.20" r="3.2" fill="#000"/>
<circle cx="492.30" cy="250.82" r="3.2" fill="#000"/>
<circle cx="513.78" cy="258.69" r="3.2" fill="#000"/>
<circle cx="535.26" cy="254.56" r="3.2" fill="#000"/>
<circle cx="556.74" cy="255.55" r="3.2" fill="#000"/>
<circle cx="578.22" cy="260.07" r="3.2" fill="#000"/>
<circle cx="599.70" cy="247.87" r="3.2" fill="#000"/>
<circle cx="621.18" cy="259.68" r="3.2" fill="#000"/>
<circle cx="642.66" cy="251.81" r="3.2" fill="#000"/>
<circle cx="664.14" cy="261.65" r="3.2" fill="#000"/>
<line x1="395" y1="330.3" x2="415.8" y2="330.3" stroke="#000" stroke-width="1.3"/>
<rect x="402.70" y="327.50" width="5.4" height="5.4" fill="#000" stroke="#b8622a" stroke-width="0.6"/>
<text x="418.50" y="332.90" font-size="8.3" fill="#1e1e1e" stroke="#1e1e1e" stroke-width="0.3" text-anchor="start" textLength="81.7" lengthAdjust="spacing">Investment Condition</text>
<line x1="517.7" y1="330.3" x2="538.9" y2="330.3" stroke="#000" stroke-width="1.2" stroke-dasharray="1.1 1.2"/>
<circle cx="528.30" cy="330.30" r="2.9" fill="#000"/>
<text x="540.70" y="332.90" font-size="8.3" fill="#1e1e1e" stroke="#1e1e1e" stroke-width="0.3" text-anchor="start" textLength="93.8" lengthAdjust="spacing">Disinvestment Condition</text>
</svg></body></html>
